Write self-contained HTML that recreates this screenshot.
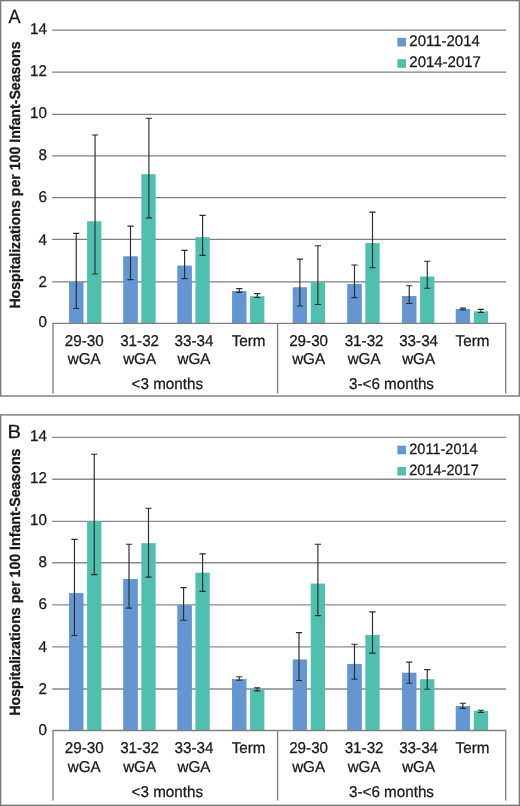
<!DOCTYPE html>
<html lang="en">
<head>
<meta charset="utf-8">
<title>Hospitalizations per 100 Infant-Seasons</title>
<style>
html,body{margin:0;padding:0;background:#fff;}
body{width:520px;height:806px;overflow:hidden;}
svg{display:block;font-family:"Liberation Sans",Arial,Helvetica,sans-serif;fill:#1a1a1a;text-rendering:geometricPrecision;}
svg text{stroke:#1a1a1a;stroke-width:0.28px;}
</style>
</head>
<body>
<svg width="520" height="806" viewBox="0 0 520 806">
<rect x="0" y="0" width="520" height="806" fill="#fff" stroke="none"/>
<rect x="0.6" y="0.60" width="518.8" height="395.40" fill="#fff" stroke="#7a7a7a" stroke-width="1.4"/>
<line x1="52.2" x2="506.2" y1="281.80" y2="281.80" stroke="#7e7e7e" stroke-width="1.25"/>
<line x1="52.2" x2="506.2" y1="239.40" y2="239.40" stroke="#7e7e7e" stroke-width="1.25"/>
<line x1="52.2" x2="506.2" y1="197.70" y2="197.70" stroke="#7e7e7e" stroke-width="1.25"/>
<line x1="52.2" x2="506.2" y1="155.85" y2="155.85" stroke="#7e7e7e" stroke-width="1.25"/>
<line x1="52.2" x2="506.2" y1="114.25" y2="114.25" stroke="#7e7e7e" stroke-width="1.25"/>
<line x1="52.2" x2="506.2" y1="72.20" y2="72.20" stroke="#7e7e7e" stroke-width="1.25"/>
<line x1="52.2" x2="506.2" y1="30.20" y2="30.20" stroke="#7e7e7e" stroke-width="1.25"/>
<text transform="translate(47.00 327.20) scale(0.975 1)" font-size="15.6" text-anchor="end" font-weight="normal">0</text>
<text transform="translate(47.00 286.84) scale(0.975 1)" font-size="15.6" text-anchor="end" font-weight="normal">2</text>
<text transform="translate(47.00 245.08) scale(0.975 1)" font-size="15.6" text-anchor="end" font-weight="normal">4</text>
<text transform="translate(47.00 201.62) scale(0.975 1)" font-size="15.6" text-anchor="end" font-weight="normal">6</text>
<text transform="translate(47.00 159.96) scale(0.975 1)" font-size="15.6" text-anchor="end" font-weight="normal">8</text>
<text transform="translate(47.00 117.90) scale(0.975 1)" font-size="15.6" text-anchor="end" font-weight="normal">10</text>
<text transform="translate(47.00 75.84) scale(0.975 1)" font-size="15.6" text-anchor="end" font-weight="normal">12</text>
<text transform="translate(47.00 33.98) scale(0.975 1)" font-size="15.6" text-anchor="end" font-weight="normal">14</text>
<rect x="69.45" y="282.52" width="13.60" height="40.88" fill="#6497d1" stroke="#5189d0" stroke-width="0.7"/>
<rect x="87.10" y="221.26" width="14.3" height="102.14" fill="#4fc0ae"/>
<rect x="123.70" y="256.77" width="13.60" height="66.63" fill="#6497d1" stroke="#5189d0" stroke-width="0.7"/>
<rect x="141.35" y="174.17" width="14.3" height="149.23" fill="#4fc0ae"/>
<rect x="177.80" y="265.98" width="13.60" height="57.42" fill="#6497d1" stroke="#5189d0" stroke-width="0.7"/>
<rect x="195.45" y="237.17" width="14.3" height="86.23" fill="#4fc0ae"/>
<rect x="232.45" y="291.31" width="13.60" height="32.09" fill="#6497d1" stroke="#5189d0" stroke-width="0.7"/>
<rect x="250.10" y="296.19" width="14.3" height="27.21" fill="#4fc0ae"/>
<rect x="293.10" y="287.75" width="13.60" height="35.65" fill="#6497d1" stroke="#5189d0" stroke-width="0.7"/>
<rect x="310.75" y="282.17" width="14.3" height="41.23" fill="#4fc0ae"/>
<rect x="347.70" y="284.40" width="13.60" height="39.00" fill="#6497d1" stroke="#5189d0" stroke-width="0.7"/>
<rect x="365.35" y="243.03" width="14.3" height="80.37" fill="#4fc0ae"/>
<rect x="402.45" y="296.33" width="13.60" height="27.07" fill="#6497d1" stroke="#5189d0" stroke-width="0.7"/>
<rect x="420.10" y="276.52" width="14.3" height="46.88" fill="#4fc0ae"/>
<rect x="456.10" y="309.31" width="13.60" height="14.09" fill="#6497d1" stroke="#5189d0" stroke-width="0.7"/>
<rect x="473.75" y="311.26" width="14.3" height="12.14" fill="#4fc0ae"/>
<path d="M53.0 393.50 V323.40 H505.7 V393.50 M277.6 323.40 V393.50" fill="none" stroke="#7f7f7f" stroke-width="1.35"/>
<path d="M76.25 233.40 V308.54 M73.15 233.40 h6.2 M73.15 308.54 h6.2" fill="none" stroke="#2b2b2b" stroke-width="1.15"/>
<path d="M95.05 135.03 V274.01 M91.95 135.03 h6.2 M91.95 274.01 h6.2" fill="none" stroke="#2b2b2b" stroke-width="1.15"/>
<path d="M130.50 226.08 V279.66 M127.40 226.08 h6.2 M127.40 279.66 h6.2" fill="none" stroke="#2b2b2b" stroke-width="1.15"/>
<path d="M148.90 118.29 V217.91 M145.80 118.29 h6.2 M145.80 217.91 h6.2" fill="none" stroke="#2b2b2b" stroke-width="1.15"/>
<path d="M184.60 250.35 V278.61 M181.50 250.35 h6.2 M181.50 278.61 h6.2" fill="none" stroke="#2b2b2b" stroke-width="1.15"/>
<path d="M202.60 215.40 V255.38 M199.50 215.40 h6.2 M199.50 255.38 h6.2" fill="none" stroke="#2b2b2b" stroke-width="1.15"/>
<path d="M239.25 288.66 V292.42 M236.15 288.66 h6.2 M236.15 292.42 h6.2" fill="none" stroke="#2b2b2b" stroke-width="1.15"/>
<path d="M257.25 293.68 V297.45 M254.15 293.68 h6.2 M254.15 297.45 h6.2" fill="none" stroke="#2b2b2b" stroke-width="1.15"/>
<path d="M299.90 259.14 V306.03 M296.80 259.14 h6.2 M296.80 306.03 h6.2" fill="none" stroke="#2b2b2b" stroke-width="1.15"/>
<path d="M317.90 245.75 V304.46 M314.80 245.75 h6.2 M314.80 304.46 h6.2" fill="none" stroke="#2b2b2b" stroke-width="1.15"/>
<path d="M354.50 265.01 V297.66 M351.40 265.01 h6.2 M351.40 297.66 h6.2" fill="none" stroke="#2b2b2b" stroke-width="1.15"/>
<path d="M372.50 212.05 V267.73 M369.40 212.05 h6.2 M369.40 267.73 h6.2" fill="none" stroke="#2b2b2b" stroke-width="1.15"/>
<path d="M409.25 285.73 V303.52 M406.15 285.73 h6.2 M406.15 303.52 h6.2" fill="none" stroke="#2b2b2b" stroke-width="1.15"/>
<path d="M427.25 261.24 V288.24 M424.15 261.24 h6.2 M424.15 288.24 h6.2" fill="none" stroke="#2b2b2b" stroke-width="1.15"/>
<path d="M462.90 308.12 V310.00 M459.80 308.12 h6.2 M459.80 310.00 h6.2" fill="none" stroke="#2b2b2b" stroke-width="1.15"/>
<path d="M480.90 309.38 V312.52 M477.80 309.38 h6.2 M477.80 312.52 h6.2" fill="none" stroke="#2b2b2b" stroke-width="1.15"/>
<text transform="translate(84.20 345.60) scale(0.975 1)" font-size="15.6" text-anchor="middle" font-weight="normal">29-30</text>
<text transform="translate(84.20 364.40) scale(0.975 1)" font-size="15.6" text-anchor="middle" font-weight="normal">wGA</text>
<text transform="translate(139.60 345.60) scale(0.975 1)" font-size="15.6" text-anchor="middle" font-weight="normal">31-32</text>
<text transform="translate(139.60 364.40) scale(0.975 1)" font-size="15.6" text-anchor="middle" font-weight="normal">wGA</text>
<text transform="translate(194.00 345.60) scale(0.975 1)" font-size="15.6" text-anchor="middle" font-weight="normal">33-34</text>
<text transform="translate(194.00 364.40) scale(0.975 1)" font-size="15.6" text-anchor="middle" font-weight="normal">wGA</text>
<text transform="translate(248.60 345.60) scale(0.975 1)" font-size="15.6" text-anchor="middle" font-weight="normal">Term</text>
<text transform="translate(308.60 345.60) scale(0.975 1)" font-size="15.6" text-anchor="middle" font-weight="normal">29-30</text>
<text transform="translate(308.60 364.40) scale(0.975 1)" font-size="15.6" text-anchor="middle" font-weight="normal">wGA</text>
<text transform="translate(364.10 345.60) scale(0.975 1)" font-size="15.6" text-anchor="middle" font-weight="normal">31-32</text>
<text transform="translate(364.10 364.40) scale(0.975 1)" font-size="15.6" text-anchor="middle" font-weight="normal">wGA</text>
<text transform="translate(418.60 345.60) scale(0.975 1)" font-size="15.6" text-anchor="middle" font-weight="normal">33-34</text>
<text transform="translate(418.60 364.40) scale(0.975 1)" font-size="15.6" text-anchor="middle" font-weight="normal">wGA</text>
<text transform="translate(472.50 345.60) scale(0.975 1)" font-size="15.6" text-anchor="middle" font-weight="normal">Term</text>
<text transform="translate(167.30 389.40) scale(0.975 1)" font-size="15.6" text-anchor="middle" font-weight="normal">&lt;3 months</text>
<text transform="translate(391.50 389.40) scale(0.975 1)" font-size="15.6" text-anchor="middle" font-weight="normal">3-&lt;6 months</text>
<rect x="397.4" y="37.88" width="8.6" height="8.6" fill="#6497d1"/>
<rect x="397.4" y="59.18" width="8.6" height="8.6" fill="#4fc0ae"/>
<text transform="translate(409.30 46.28) scale(0.975 1)" font-size="15.37" text-anchor="start" font-weight="normal">2011-2014</text>
<text transform="translate(409.30 67.48) scale(0.975 1)" font-size="15.37" text-anchor="start" font-weight="normal">2014-2017</text>
<text transform="translate(8.5 22.9) scale(0.93 1)" font-size="19.4">A</text>
<text transform="translate(20.4 308.60) rotate(-90) scale(1 1.05)" font-size="14.15" font-weight="bold" text-anchor="start">Hospitalizations per 100 Infant-Seasons</text>
<rect x="0.6" y="414.90" width="518.8" height="390.40" fill="#fff" stroke="#7a7a7a" stroke-width="1.4"/>
<line x1="52.2" x2="506.2" y1="689.00" y2="689.00" stroke="#8a8a8a" stroke-width="1.4"/>
<line x1="52.2" x2="506.2" y1="646.90" y2="646.90" stroke="#8a8a8a" stroke-width="1.4"/>
<line x1="52.2" x2="506.2" y1="604.90" y2="604.90" stroke="#8a8a8a" stroke-width="1.4"/>
<line x1="52.2" x2="506.2" y1="562.80" y2="562.80" stroke="#8a8a8a" stroke-width="1.4"/>
<line x1="52.2" x2="506.2" y1="521.40" y2="521.40" stroke="#8a8a8a" stroke-width="1.4"/>
<line x1="52.2" x2="506.2" y1="479.30" y2="479.30" stroke="#8a8a8a" stroke-width="1.4"/>
<line x1="52.2" x2="506.2" y1="437.40" y2="437.40" stroke="#8a8a8a" stroke-width="1.4"/>
<text transform="translate(47.00 734.60) scale(0.975 1)" font-size="15.6" text-anchor="end" font-weight="normal">0</text>
<text transform="translate(47.00 694.24) scale(0.975 1)" font-size="15.6" text-anchor="end" font-weight="normal">2</text>
<text transform="translate(47.00 652.48) scale(0.975 1)" font-size="15.6" text-anchor="end" font-weight="normal">4</text>
<text transform="translate(47.00 608.92) scale(0.975 1)" font-size="15.6" text-anchor="end" font-weight="normal">6</text>
<text transform="translate(47.00 567.06) scale(0.975 1)" font-size="15.6" text-anchor="end" font-weight="normal">8</text>
<text transform="translate(47.00 525.10) scale(0.975 1)" font-size="15.6" text-anchor="end" font-weight="normal">10</text>
<text transform="translate(47.00 483.34) scale(0.975 1)" font-size="15.6" text-anchor="end" font-weight="normal">12</text>
<text transform="translate(47.00 441.48) scale(0.975 1)" font-size="15.6" text-anchor="end" font-weight="normal">14</text>
<rect x="69.45" y="593.55" width="13.60" height="136.95" fill="#6497d1" stroke="#5189d0" stroke-width="0.7"/>
<rect x="87.10" y="521.20" width="14.3" height="209.30" fill="#4fc0ae"/>
<rect x="123.70" y="579.32" width="13.60" height="151.18" fill="#6497d1" stroke="#5189d0" stroke-width="0.7"/>
<rect x="141.35" y="543.18" width="14.3" height="187.32" fill="#4fc0ae"/>
<rect x="177.80" y="605.69" width="13.60" height="124.81" fill="#6497d1" stroke="#5189d0" stroke-width="0.7"/>
<rect x="195.45" y="572.69" width="14.3" height="157.81" fill="#4fc0ae"/>
<rect x="232.45" y="679.57" width="13.60" height="50.93" fill="#6497d1" stroke="#5189d0" stroke-width="0.7"/>
<rect x="250.10" y="689.06" width="14.3" height="41.44" fill="#4fc0ae"/>
<rect x="293.10" y="659.90" width="13.60" height="70.60" fill="#6497d1" stroke="#5189d0" stroke-width="0.7"/>
<rect x="310.75" y="583.57" width="14.3" height="146.93" fill="#4fc0ae"/>
<rect x="347.70" y="664.29" width="13.60" height="66.21" fill="#6497d1" stroke="#5189d0" stroke-width="0.7"/>
<rect x="365.35" y="634.85" width="14.3" height="95.65" fill="#4fc0ae"/>
<rect x="402.45" y="673.08" width="13.60" height="57.42" fill="#6497d1" stroke="#5189d0" stroke-width="0.7"/>
<rect x="420.10" y="679.22" width="14.3" height="51.28" fill="#4fc0ae"/>
<rect x="456.10" y="706.57" width="13.60" height="23.93" fill="#6497d1" stroke="#5189d0" stroke-width="0.7"/>
<rect x="473.75" y="710.83" width="14.3" height="19.67" fill="#4fc0ae"/>
<path d="M53.0 800.60 V730.50 H505.7 V800.60 M277.6 730.50 V800.60" fill="none" stroke="#7f7f7f" stroke-width="1.35"/>
<path d="M74.45 539.41 V635.48 M71.35 539.41 h6.2 M71.35 635.48 h6.2" fill="none" stroke="#2b2b2b" stroke-width="1.15"/>
<path d="M94.25 454.22 V574.57 M91.15 454.22 h6.2 M91.15 574.57 h6.2" fill="none" stroke="#2b2b2b" stroke-width="1.15"/>
<path d="M129.00 544.22 V608.06 M125.90 544.22 h6.2 M125.90 608.06 h6.2" fill="none" stroke="#2b2b2b" stroke-width="1.15"/>
<path d="M148.50 508.22 V577.08 M145.40 508.22 h6.2 M145.40 577.08 h6.2" fill="none" stroke="#2b2b2b" stroke-width="1.15"/>
<path d="M183.60 587.55 V620.20 M180.50 587.55 h6.2 M180.50 620.20 h6.2" fill="none" stroke="#2b2b2b" stroke-width="1.15"/>
<path d="M202.60 553.85 V591.32 M199.50 553.85 h6.2 M199.50 591.32 h6.2" fill="none" stroke="#2b2b2b" stroke-width="1.15"/>
<path d="M239.25 676.71 V680.27 M236.15 676.71 h6.2 M236.15 680.27 h6.2" fill="none" stroke="#2b2b2b" stroke-width="1.15"/>
<path d="M257.25 687.80 V690.94 M254.15 687.80 h6.2 M254.15 690.94 h6.2" fill="none" stroke="#2b2b2b" stroke-width="1.15"/>
<path d="M299.00 632.55 V680.48 M295.90 632.55 h6.2 M295.90 680.48 h6.2" fill="none" stroke="#2b2b2b" stroke-width="1.15"/>
<path d="M317.90 544.22 V615.59 M314.80 544.22 h6.2 M314.80 615.59 h6.2" fill="none" stroke="#2b2b2b" stroke-width="1.15"/>
<path d="M354.50 644.27 V679.22 M351.40 644.27 h6.2 M351.40 679.22 h6.2" fill="none" stroke="#2b2b2b" stroke-width="1.15"/>
<path d="M372.50 611.83 V653.06 M369.40 611.83 h6.2 M369.40 653.06 h6.2" fill="none" stroke="#2b2b2b" stroke-width="1.15"/>
<path d="M409.25 662.06 V683.20 M406.15 662.06 h6.2 M406.15 683.20 h6.2" fill="none" stroke="#2b2b2b" stroke-width="1.15"/>
<path d="M427.25 669.59 V689.27 M424.15 669.59 h6.2 M424.15 689.27 h6.2" fill="none" stroke="#2b2b2b" stroke-width="1.15"/>
<path d="M462.90 703.29 V708.31 M459.80 703.29 h6.2 M459.80 708.31 h6.2" fill="none" stroke="#2b2b2b" stroke-width="1.15"/>
<path d="M480.90 710.20 V712.50 M477.80 710.20 h6.2 M477.80 712.50 h6.2" fill="none" stroke="#2b2b2b" stroke-width="1.15"/>
<text transform="translate(84.20 752.70) scale(0.975 1)" font-size="15.6" text-anchor="middle" font-weight="normal">29-30</text>
<text transform="translate(84.20 771.50) scale(0.975 1)" font-size="15.6" text-anchor="middle" font-weight="normal">wGA</text>
<text transform="translate(139.60 752.70) scale(0.975 1)" font-size="15.6" text-anchor="middle" font-weight="normal">31-32</text>
<text transform="translate(139.60 771.50) scale(0.975 1)" font-size="15.6" text-anchor="middle" font-weight="normal">wGA</text>
<text transform="translate(194.00 752.70) scale(0.975 1)" font-size="15.6" text-anchor="middle" font-weight="normal">33-34</text>
<text transform="translate(194.00 771.50) scale(0.975 1)" font-size="15.6" text-anchor="middle" font-weight="normal">wGA</text>
<text transform="translate(248.60 752.70) scale(0.975 1)" font-size="15.6" text-anchor="middle" font-weight="normal">Term</text>
<text transform="translate(308.60 752.70) scale(0.975 1)" font-size="15.6" text-anchor="middle" font-weight="normal">29-30</text>
<text transform="translate(308.60 771.50) scale(0.975 1)" font-size="15.6" text-anchor="middle" font-weight="normal">wGA</text>
<text transform="translate(364.10 752.70) scale(0.975 1)" font-size="15.6" text-anchor="middle" font-weight="normal">31-32</text>
<text transform="translate(364.10 771.50) scale(0.975 1)" font-size="15.6" text-anchor="middle" font-weight="normal">wGA</text>
<text transform="translate(418.60 752.70) scale(0.975 1)" font-size="15.6" text-anchor="middle" font-weight="normal">33-34</text>
<text transform="translate(418.60 771.50) scale(0.975 1)" font-size="15.6" text-anchor="middle" font-weight="normal">wGA</text>
<text transform="translate(472.50 752.70) scale(0.975 1)" font-size="15.6" text-anchor="middle" font-weight="normal">Term</text>
<text transform="translate(167.30 796.50) scale(0.975 1)" font-size="15.6" text-anchor="middle" font-weight="normal">&lt;3 months</text>
<text transform="translate(391.50 796.50) scale(0.975 1)" font-size="15.6" text-anchor="middle" font-weight="normal">3-&lt;6 months</text>
<rect x="397.4" y="445.68" width="8.6" height="8.6" fill="#6497d1"/>
<rect x="397.4" y="466.98" width="8.6" height="8.6" fill="#4fc0ae"/>
<text transform="translate(409.30 453.88) scale(0.975 1)" font-size="14.9" text-anchor="start" font-weight="normal">2011-2014</text>
<text transform="translate(409.30 475.08) scale(0.975 1)" font-size="14.9" text-anchor="start" font-weight="normal">2014-2017</text>
<text transform="translate(7.6 437.6) scale(1.07 1)" font-size="19">B</text>
<text transform="translate(20.4 715.70) rotate(-90) scale(1 1.05)" font-size="14.15" font-weight="bold" text-anchor="start">Hospitalizations per 100 Infant-Seasons</text>
</svg>
</body>
</html>
